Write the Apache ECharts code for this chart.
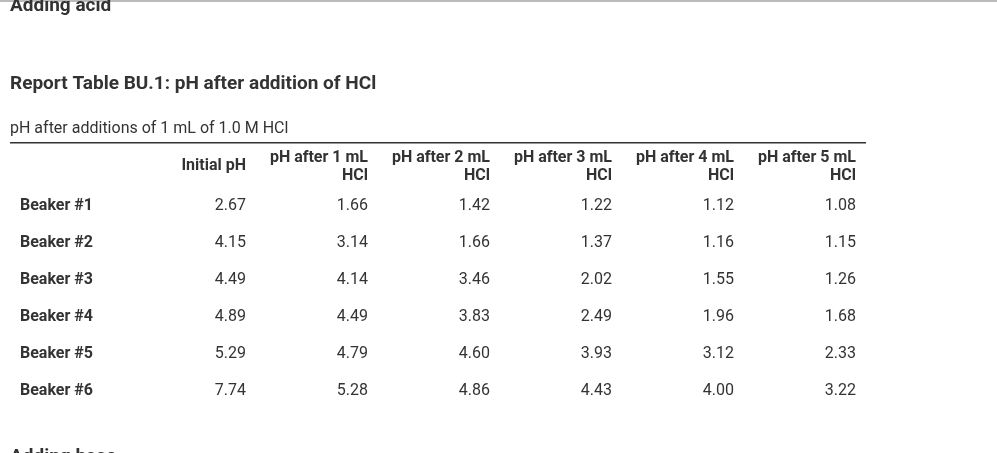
<!DOCTYPE html>
<html><head><meta charset="utf-8">
<script src="https://cdn.jsdelivr.net/npm/echarts@6/dist/echarts.min.js"></script>
<style>html,body{margin:0;padding:0;background:#fff}#c{width:997px;height:453px}</style>
</head><body><div id="c"></div>
<script>
const columns = [["Initial pH"],["pH after 1 mL","HCl"],["pH after 2 mL","HCl"],["pH after 3 mL","HCl"],["pH after 4 mL","HCl"],["pH after 5 mL","HCl"]];
const rowLabels = ["Beaker #1","Beaker #2","Beaker #3","Beaker #4","Beaker #5","Beaker #6"];
const b1 = ["2.67","1.66","1.42","1.22","1.12","1.08"];
const b2 = ["4.15","3.14","1.66","1.37","1.16","1.15"];
const b3 = ["4.49","4.14","3.46","2.02","1.55","1.26"];
const b4 = ["4.89","4.49","3.83","2.49","1.96","1.68"];
const b5 = ["5.29","4.79","4.60","3.93","3.12","2.33"];
const b6 = ["7.74","5.28","4.86","4.43","4.00","3.22"];
const values = [b1,b2,b3,b4,b5,b6];
const F = 'Roboto, sans-serif', C = '#333';
const g = [];
g.push({type:'rect',shape:{x:0,y:0,width:997,height:2},style:{fill:'#bbb'}});
g.push({type:'text',x:10,y:6,style:{text:'Adding acid',font:'bold 19px '+F,fill:C,verticalAlign:'middle'}});
g.push({type:'text',x:10,y:84,style:{text:'Report Table BU.1: pH after addition of HCl',font:'bold 19px '+F,fill:C,verticalAlign:'middle'}});
g.push({type:'text',x:10,y:129,style:{text:'pH after additions of 1 mL of 1.0 M HCl',font:'16px '+F,fill:C,verticalAlign:'middle'}});
g.push({type:'rect',shape:{x:10,y:142,width:856,height:1.5},style:{fill:'#333'}});
const colX = [246,368,490,612,734,856];
columns.forEach((c,i)=>{
  if(c.length===1) g.push({type:'text',x:colX[i],y:166,style:{text:c[0],font:'bold 16px '+F,fill:C,align:'right',verticalAlign:'middle'}});
  else c.forEach((t,k)=>g.push({type:'text',x:colX[i],y:158+k*18,style:{text:t,font:'bold 16px '+F,fill:C,align:'right',verticalAlign:'middle'}}));
});
rowLabels.forEach((r,j)=>{
  const y=206+j*37;
  g.push({type:'text',x:20,y:y,style:{text:r,font:'bold 16px '+F,fill:C,verticalAlign:'middle'}});
  values[j].forEach((v,i)=>g.push({type:'text',x:colX[i],y:y,style:{text:v,font:'16px '+F,fill:C,align:'right',verticalAlign:'middle'}}));
});
g.push({type:'text',x:10,y:457,style:{text:'Adding base',font:'bold 19px '+F,fill:C,verticalAlign:'middle'}});
const ch = echarts.init(document.getElementById('c'));
ch.setOption({animation:false,graphic:g});
</script></body></html>
